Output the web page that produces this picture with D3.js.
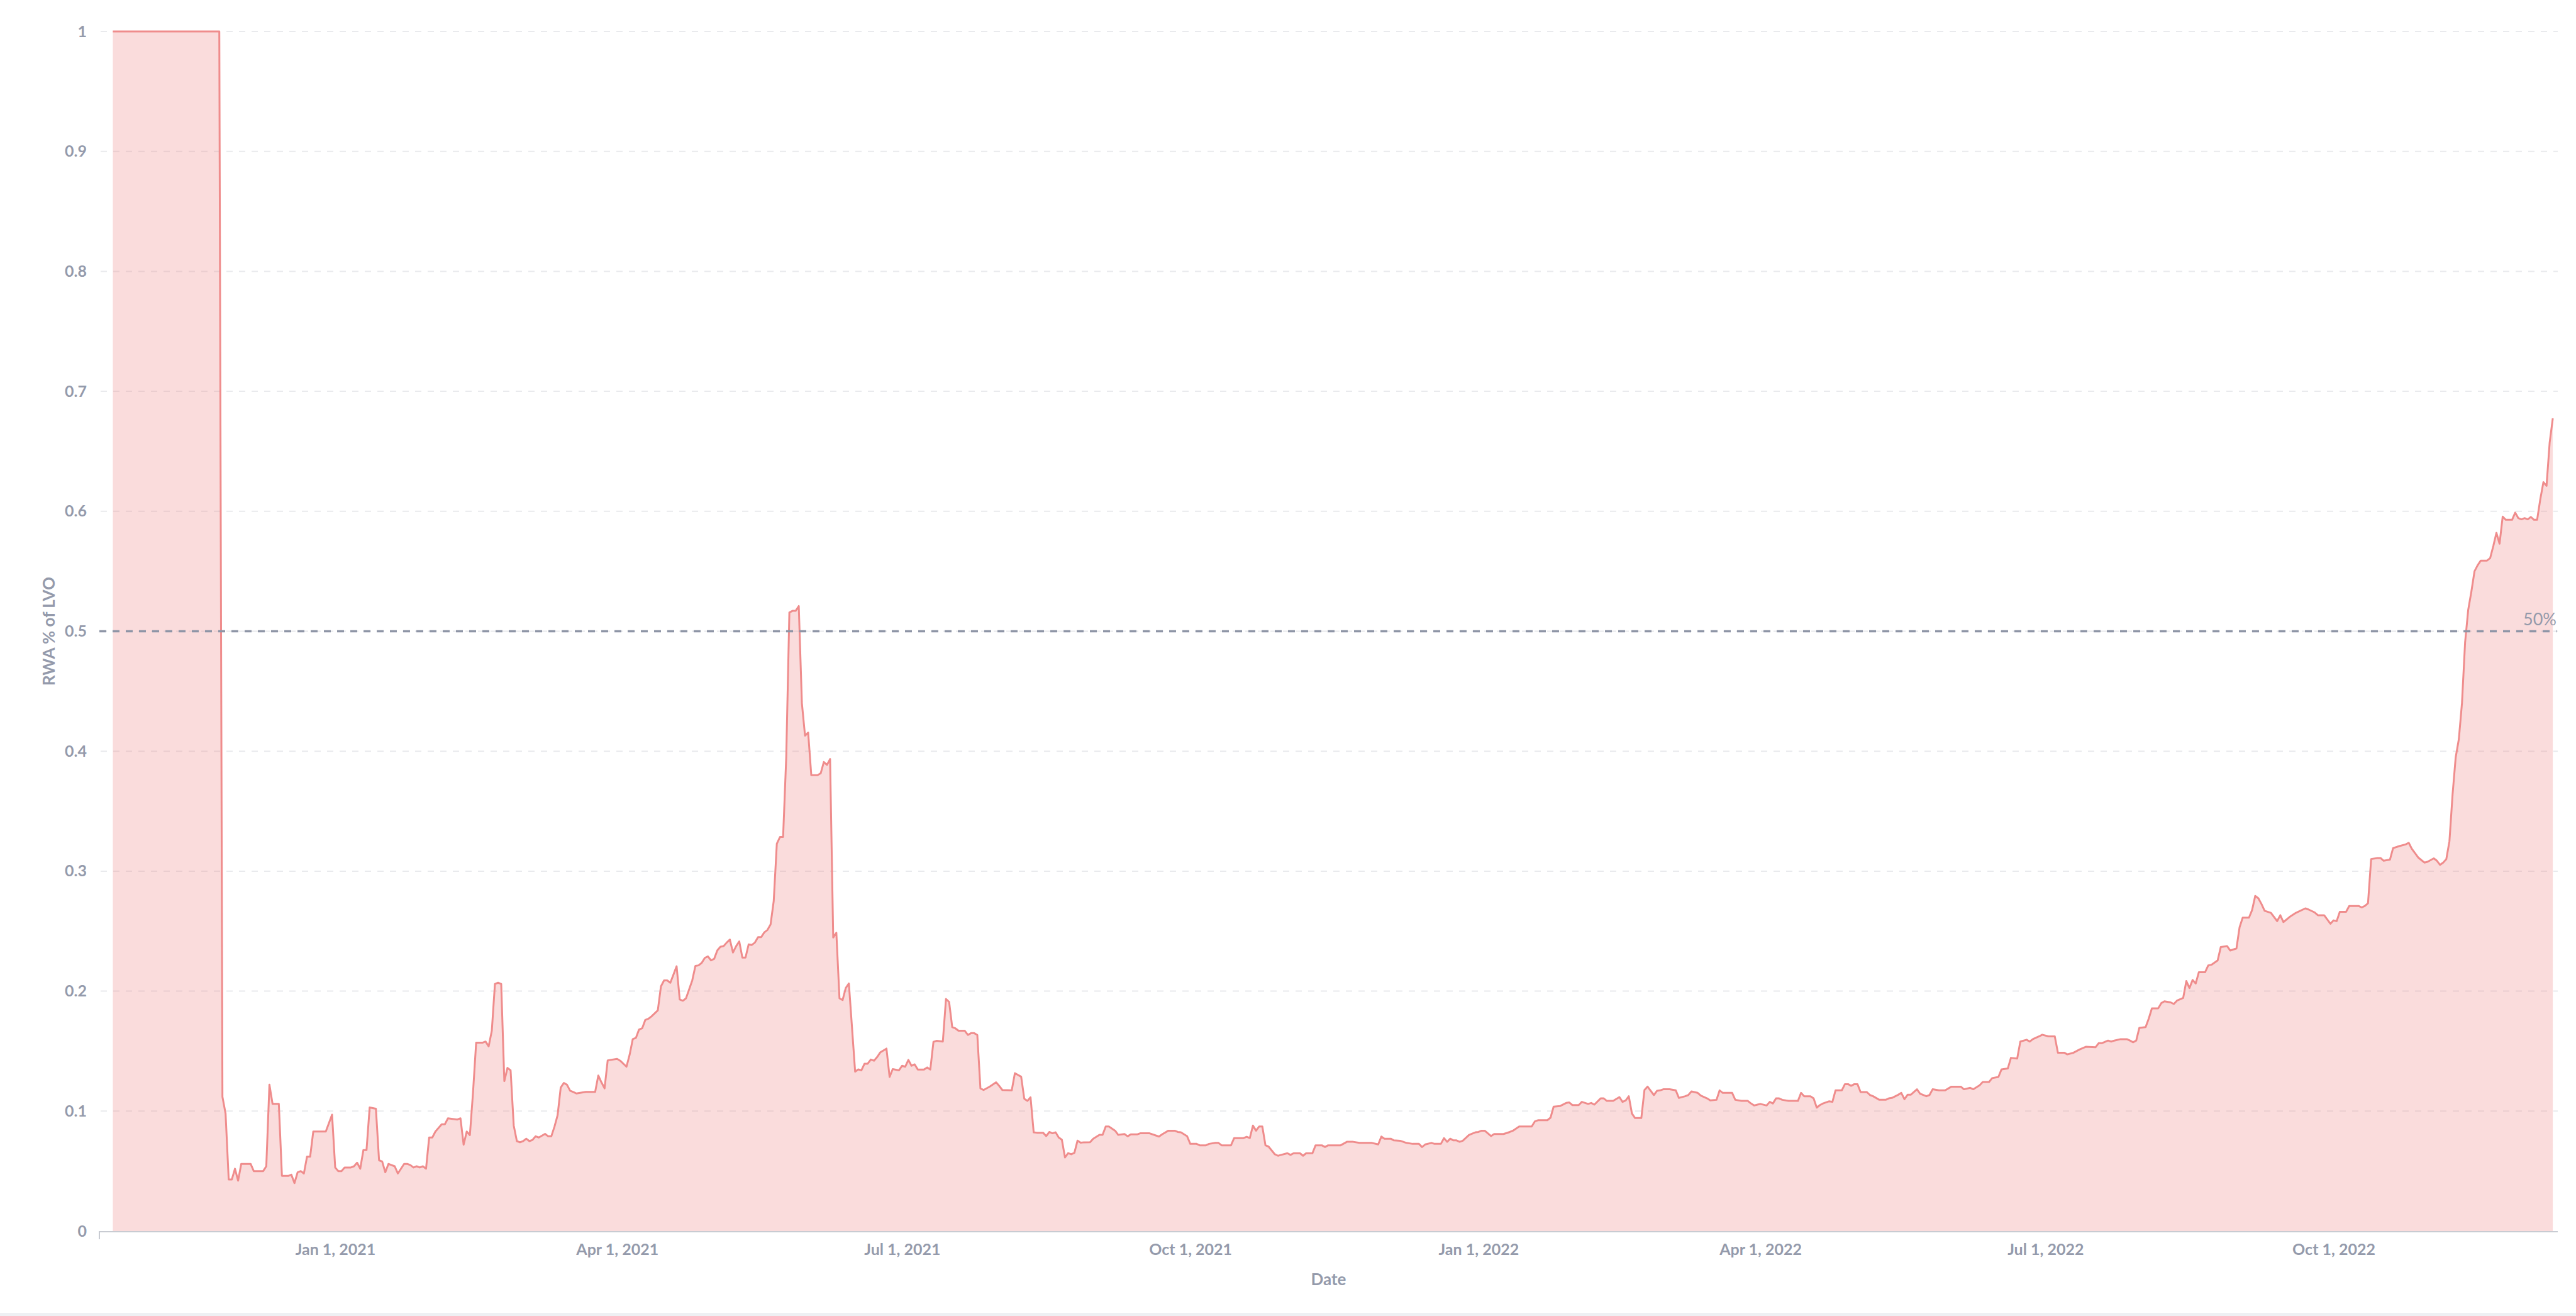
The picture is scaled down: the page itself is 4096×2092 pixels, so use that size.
<!DOCTYPE html>
<html><head><meta charset="utf-8">
<script src="https://cdn.jsdelivr.net/npm/d3@7"></script>
<style>html,body{margin:0;padding:0;background:#fff;} svg{display:block;}</style>
</head><body>
<svg id="chart" width="4096" height="2092"></svg>
<script>
// ---- data (RWA % of LVO by date) ----
const points2020 = [
["2020-10-22",1.0],["2020-11-25",1.0],["2020-11-26",0.112],["2020-11-27",0.098],["2020-11-28",0.043],["2020-11-29",0.043],["2020-11-30",0.052],
["2020-12-01",0.042],["2020-12-02",0.056],["2020-12-05",0.056],["2020-12-06",0.050],["2020-12-09",0.050],["2020-12-10",0.054],["2020-12-11",0.122],
["2020-12-12",0.106],["2020-12-14",0.106],["2020-12-15",0.046],["2020-12-17",0.046],["2020-12-18",0.047],["2020-12-19",0.040],["2020-12-20",0.049],
["2020-12-21",0.050],["2020-12-22",0.048],["2020-12-23",0.062],["2020-12-24",0.062],["2020-12-25",0.083],["2020-12-29",0.083],["2020-12-31",0.097]
];
const points2021 = [
["2021-01-01",0.053],["2021-01-02",0.050],["2021-01-03",0.050],["2021-01-04",0.053],["2021-01-06",0.053],["2021-01-07",0.054],["2021-01-08",0.057],
["2021-01-09",0.052],["2021-01-10",0.0675],["2021-01-11",0.0675],["2021-01-12",0.103],["2021-01-14",0.102],["2021-01-15",0.059],["2021-01-16",0.058],
["2021-01-17",0.049],["2021-01-18",0.056],["2021-01-19",0.055],["2021-01-20",0.054],["2021-01-21",0.048],["2021-01-23",0.056],["2021-01-24",0.056],
["2021-01-25",0.055],["2021-01-26",0.053],["2021-01-27",0.054],["2021-01-28",0.053],["2021-01-29",0.054],["2021-01-30",0.052],["2021-01-31",0.078],
["2021-02-01",0.078],["2021-02-02",0.083],["2021-02-03",0.086],["2021-02-04",0.089],["2021-02-05",0.089],["2021-02-06",0.094],["2021-02-09",0.093],
["2021-02-10",0.094],["2021-02-11",0.072],["2021-02-12",0.083],["2021-02-13",0.080],["2021-02-14",0.1155],["2021-02-15",0.157],["2021-02-17",0.157],
["2021-02-18",0.158],["2021-02-19",0.154],["2021-02-20",0.167],["2021-02-21",0.206],["2021-02-22",0.207],["2021-02-23",0.206],["2021-02-24",0.125],
["2021-02-25",0.136],["2021-02-26",0.134],["2021-02-27",0.088],["2021-02-28",0.075],["2021-03-01",0.074],["2021-03-02",0.075],["2021-03-03",0.077],
["2021-03-04",0.075],["2021-03-05",0.076],["2021-03-06",0.079],["2021-03-07",0.078],["2021-03-09",0.081],["2021-03-10",0.079],["2021-03-11",0.079],
["2021-03-12",0.087],["2021-03-13",0.0965],["2021-03-14",0.1196],["2021-03-15",0.1235],["2021-03-16",0.122],["2021-03-17",0.117],["2021-03-18",0.116],
["2021-03-19",0.1147],["2021-03-22",0.116],["2021-03-25",0.116],["2021-03-26",0.1297],["2021-03-27",0.124],["2021-03-28",0.119],["2021-03-29",0.1423],
["2021-04-01",0.1436],["2021-04-02",0.142],["2021-04-04",0.137],["2021-04-05",0.147],["2021-04-06",0.160],["2021-04-07",0.161],["2021-04-08",0.168],
["2021-04-09",0.169],["2021-04-10",0.176],["2021-04-11",0.177],["2021-04-12",0.179],["2021-04-14",0.184],["2021-04-15",0.204],["2021-04-16",0.209],
["2021-04-17",0.209],["2021-04-18",0.207],["2021-04-20",0.2207],["2021-04-21",0.193],["2021-04-22",0.192],["2021-04-23",0.194],["2021-04-24",0.2015],
["2021-04-25",0.209],["2021-04-26",0.221],["2021-04-27",0.2215],["2021-04-28",0.2235],["2021-04-29",0.2277],["2021-04-30",0.229],["2021-05-01",0.2256],
["2021-05-02",0.227],["2021-05-03",0.234],["2021-05-04",0.237],["2021-05-05",0.2375],["2021-05-06",0.2405],["2021-05-07",0.243],["2021-05-08",0.2322],
["2021-05-09",0.2375],["2021-05-10",0.2415],["2021-05-11",0.228],["2021-05-12",0.228],["2021-05-13",0.239],["2021-05-14",0.2385],["2021-05-15",0.2405],
["2021-05-16",0.245],["2021-05-17",0.245],["2021-05-18",0.249],["2021-05-19",0.251],["2021-05-20",0.2556],["2021-05-21",0.275],["2021-05-22",0.323],
["2021-05-23",0.3285],["2021-05-24",0.3285],["2021-05-25",0.395],["2021-05-26",0.5157],["2021-05-27",0.517],["2021-05-28",0.517],["2021-05-29",0.521],
["2021-05-30",0.440],["2021-05-31",0.413],["2021-06-01",0.4155],["2021-06-02",0.380],["2021-06-04",0.380],["2021-06-05",0.3816],["2021-06-06",0.391],
["2021-06-07",0.3886],["2021-06-08",0.3935],["2021-06-09",0.2447],["2021-06-10",0.2487],["2021-06-11",0.194],["2021-06-12",0.1926],["2021-06-13",0.2026],
["2021-06-14",0.2064],["2021-06-16",0.1329],["2021-06-17",0.1348],["2021-06-18",0.134],["2021-06-19",0.1395],["2021-06-20",0.1395],["2021-06-21",0.143],
["2021-06-22",0.142],["2021-06-23",0.145],["2021-06-24",0.1489],["2021-06-26",0.1521],["2021-06-27",0.1285],["2021-06-28",0.135],["2021-06-30",0.134],
["2021-07-01",0.1378],["2021-07-02",0.137],["2021-07-03",0.1427],["2021-07-04",0.1378],["2021-07-05",0.139],["2021-07-06",0.1347],["2021-07-08",0.1347],
["2021-07-09",0.1364],["2021-07-10",0.1347],["2021-07-11",0.1577],["2021-07-12",0.1586],["2021-07-14",0.158],["2021-07-15",0.1935],["2021-07-16",0.191],
["2021-07-17",0.170],["2021-07-18",0.169],["2021-07-19",0.167],["2021-07-21",0.167],["2021-07-22",0.1635],["2021-07-23",0.165],["2021-07-24",0.165],
["2021-07-25",0.1635],["2021-07-26",0.119],["2021-07-27",0.1176],["2021-07-29",0.1205],["2021-07-31",0.124],["2021-08-01",0.121],["2021-08-02",0.1176],
["2021-08-05",0.1173],["2021-08-06",0.1316],["2021-08-08",0.1287],["2021-08-09",0.1103],["2021-08-10",0.1086],["2021-08-11",0.1115],["2021-08-12",0.0823],
["2021-08-13",0.082],["2021-08-15",0.082],["2021-08-16",0.0792],["2021-08-17",0.0826],["2021-08-18",0.0815],["2021-08-19",0.0823],["2021-08-20",0.078],
["2021-08-21",0.0762],["2021-08-22",0.0614],["2021-08-23",0.065],["2021-08-24",0.064],["2021-08-25",0.0652],["2021-08-26",0.0754],["2021-08-27",0.0737],
["2021-08-28",0.074],["2021-08-30",0.0741],["2021-08-31",0.077],["2021-09-02",0.0802],["2021-09-03",0.0802],["2021-09-04",0.0872],["2021-09-05",0.0872],
["2021-09-07",0.0837],["2021-09-08",0.0802],["2021-09-10",0.0809],["2021-09-11",0.079],["2021-09-12",0.0806],["2021-09-14",0.0806],["2021-09-15",0.0815],
["2021-09-18",0.0815],["2021-09-21",0.0788],["2021-09-22",0.0806],["2021-09-24",0.0837],["2021-09-26",0.0837],["2021-09-27",0.0826],["2021-09-28",0.0823],
["2021-09-30",0.079],["2021-10-01",0.0727],["2021-10-03",0.0727],["2021-10-04",0.0715],["2021-10-06",0.0715],["2021-10-07",0.0727],["2021-10-09",0.0735],
["2021-10-10",0.0735],["2021-10-11",0.0715],["2021-10-14",0.0715],["2021-10-15",0.0775],["2021-10-18",0.0775],["2021-10-19",0.0786],["2021-10-20",0.0775],
["2021-10-21",0.0879],["2021-10-22",0.0837],["2021-10-23",0.0872],["2021-10-24",0.0872],["2021-10-25",0.0715],["2021-10-26",0.0704],["2021-10-28",0.064],
["2021-10-29",0.0628],["2021-10-30",0.0635],["2021-11-01",0.0649],["2021-11-02",0.0635],["2021-11-03",0.0649],["2021-11-05",0.0649],["2021-11-06",0.0628],
["2021-11-07",0.0649],["2021-11-09",0.0649],["2021-11-10",0.0715],["2021-11-12",0.0715],["2021-11-13",0.0701],["2021-11-14",0.0715],["2021-11-18",0.0715],
["2021-11-20",0.0744],["2021-11-22",0.0744],["2021-11-24",0.0735],["2021-11-28",0.0735],["2021-11-30",0.0722],["2021-12-01",0.0788],["2021-12-02",0.077],
["2021-12-04",0.077],["2021-12-05",0.0756],["2021-12-07",0.0753],["2021-12-09",0.0735],["2021-12-11",0.0727],["2021-12-13",0.0727],["2021-12-14",0.0701],
["2021-12-15",0.0722],["2021-12-17",0.0735],["2021-12-18",0.0727],["2021-12-20",0.0727],["2021-12-21",0.0775],["2021-12-22",0.0744],["2021-12-23",0.077],
["2021-12-24",0.0756],["2021-12-25",0.0756],["2021-12-26",0.0744],["2021-12-27",0.0753],["2021-12-29",0.0802],["2021-12-31",0.0823]
];
const points2022 = [
["2022-01-01",0.0826],["2022-01-02",0.0837],["2022-01-03",0.0837],["2022-01-05",0.0792],["2022-01-06",0.0809],["2022-01-09",0.0809],["2022-01-11",0.0826],
["2022-01-12",0.0837],["2022-01-14",0.0872],["2022-01-18",0.0872],["2022-01-19",0.0914],["2022-01-20",0.0924],["2022-01-23",0.0924],["2022-01-24",0.0945],
["2022-01-25",0.1037],["2022-01-27",0.1042],["2022-01-29",0.1068],["2022-01-30",0.1072],["2022-01-31",0.105],["2022-02-02",0.105],["2022-02-03",0.1077],
["2022-02-05",0.106],["2022-02-06",0.1068],["2022-02-07",0.1054],["2022-02-09",0.1106],["2022-02-10",0.1106],["2022-02-11",0.1085],["2022-02-13",0.1085],
["2022-02-15",0.1117],["2022-02-16",0.1077],["2022-02-17",0.1089],["2022-02-18",0.1124],["2022-02-19",0.098],["2022-02-20",0.0942],["2022-02-22",0.0942],
["2022-02-23",0.1176],["2022-02-24",0.1204],["2022-02-26",0.1134],["2022-02-27",0.1169],["2022-02-28",0.1173],["2022-03-01",0.1182],["2022-03-03",0.1182],
["2022-03-05",0.1173],["2022-03-06",0.111],["2022-03-08",0.1124],["2022-03-09",0.1134],["2022-03-10",0.1164],["2022-03-12",0.1152],["2022-03-13",0.1129],
["2022-03-15",0.1106],["2022-03-16",0.1089],["2022-03-18",0.1094],["2022-03-19",0.1173],["2022-03-20",0.1152],["2022-03-23",0.1152],["2022-03-24",0.1094],
["2022-03-26",0.1085],["2022-03-28",0.1085],["2022-03-29",0.1064],["2022-03-30",0.1047],["2022-04-01",0.106],["2022-04-03",0.1047],["2022-04-04",0.1077],
["2022-04-05",0.1064],["2022-04-06",0.1106],["2022-04-07",0.1106],["2022-04-08",0.1094],["2022-04-10",0.1085],["2022-04-13",0.1085],["2022-04-14",0.1152],
["2022-04-15",0.1124],["2022-04-17",0.1124],["2022-04-18",0.1106],["2022-04-19",0.1029],["2022-04-20",0.105],["2022-04-21",0.1064],["2022-04-23",0.1082],
["2022-04-24",0.1077],["2022-04-25",0.1173],["2022-04-27",0.1173],["2022-04-28",0.1225],["2022-04-29",0.1225],["2022-04-30",0.1211],["2022-05-01",0.1225],
["2022-05-02",0.1225],["2022-05-03",0.1159],["2022-05-05",0.1159],["2022-05-06",0.1134],["2022-05-07",0.1124],["2022-05-09",0.1094],["2022-05-11",0.1094],
["2022-05-12",0.1106],["2022-05-13",0.111],["2022-05-15",0.1136],["2022-05-16",0.1152],["2022-05-17",0.1099],["2022-05-18",0.1136],["2022-05-19",0.1136],
["2022-05-21",0.1182],["2022-05-22",0.1145],["2022-05-24",0.1124],["2022-05-25",0.1134],["2022-05-26",0.1182],["2022-05-28",0.1173],["2022-05-30",0.1173],
["2022-06-01",0.1204],["2022-06-04",0.1204],["2022-06-05",0.1182],["2022-06-07",0.1194],["2022-06-08",0.1182],["2022-06-10",0.1215],["2022-06-11",0.1243],
["2022-06-13",0.1243],["2022-06-14",0.1275],["2022-06-16",0.1285],["2022-06-17",0.1348],["2022-06-19",0.1355],["2022-06-20",0.1444],["2022-06-22",0.1438],
["2022-06-23",0.158],["2022-06-25",0.1595],["2022-06-26",0.158],["2022-06-27",0.160],["2022-06-29",0.1623],["2022-06-30",0.1637],["2022-07-02",0.1623],
["2022-07-04",0.1623],["2022-07-05",0.1487],["2022-07-07",0.1487],["2022-07-08",0.1473],["2022-07-10",0.1487],["2022-07-12",0.1515],["2022-07-14",0.1537],
["2022-07-17",0.1532],["2022-07-18",0.1566],["2022-07-19",0.1566],["2022-07-21",0.1588],["2022-07-22",0.158],["2022-07-23",0.1588],["2022-07-25",0.160],
["2022-07-27",0.160],["2022-07-28",0.1588],["2022-07-29",0.1574],["2022-07-30",0.1588],["2022-07-31",0.1694],["2022-08-02",0.170],["2022-08-03",0.1771],
["2022-08-04",0.1856],["2022-08-06",0.1856],["2022-08-07",0.190],["2022-08-08",0.1915],["2022-08-10",0.1906],["2022-08-11",0.1893],["2022-08-12",0.1921],
["2022-08-14",0.1944],["2022-08-15",0.2084],["2022-08-16",0.2026],["2022-08-17",0.2093],["2022-08-18",0.2064],["2022-08-19",0.2158],["2022-08-21",0.2158],
["2022-08-22",0.2215],["2022-08-23",0.222],["2022-08-25",0.2256],["2022-08-26",0.2368],["2022-08-28",0.2376],["2022-08-29",0.2339],["2022-08-31",0.2356],
["2022-09-01",0.2533],["2022-09-02",0.2613],["2022-09-04",0.2613],["2022-09-05",0.2676],["2022-09-06",0.2794],["2022-09-07",0.2774],["2022-09-08",0.2726],
["2022-09-09",0.267],["2022-09-11",0.2653],["2022-09-13",0.2584],["2022-09-14",0.2633],["2022-09-15",0.2576],["2022-09-17",0.2619],["2022-09-19",0.2653],
["2022-09-22",0.269],["2022-09-23",0.2681],["2022-09-25",0.2656],["2022-09-26",0.2633],["2022-09-28",0.2633],["2022-09-30",0.2562],["2022-10-01",0.259],
["2022-10-02",0.2584],["2022-10-03",0.2661],["2022-10-05",0.2661],["2022-10-06",0.271],["2022-10-09",0.271],["2022-10-10",0.2698],["2022-10-11",0.271],
["2022-10-12",0.2733],["2022-10-13",0.3101],["2022-10-15",0.311],["2022-10-16",0.311],["2022-10-17",0.3087],["2022-10-19",0.3096],["2022-10-20",0.3192],
["2022-10-22",0.3209],["2022-10-24",0.3223],["2022-10-25",0.3237],["2022-10-26",0.3186],["2022-10-28",0.3115],["2022-10-30",0.3072],["2022-10-31",0.3078],
["2022-11-02",0.3107],["2022-11-03",0.3087],["2022-11-04",0.3053],["2022-11-05",0.3072],["2022-11-06",0.3100],["2022-11-07",0.325],["2022-11-08",0.364],
["2022-11-09",0.395],["2022-11-10",0.410],["2022-11-11",0.44],["2022-11-12",0.4908],["2022-11-13",0.518],["2022-11-14",0.533],["2022-11-15",0.550],
["2022-11-16",0.555],["2022-11-17",0.5589],["2022-11-19",0.5589],["2022-11-20",0.561],["2022-11-21",0.571],["2022-11-22",0.582],["2022-11-23",0.573],
["2022-11-24",0.5956],["2022-11-25",0.5929],["2022-11-27",0.5929],["2022-11-28",0.5989],["2022-11-29",0.5943],["2022-11-30",0.5933],["2022-12-01",0.5943],
["2022-12-02",0.5933],["2022-12-03",0.5953],["2022-12-04",0.5929],["2022-12-05",0.5929],["2022-12-06",0.610],["2022-12-07",0.6243],["2022-12-08",0.6212],
["2022-12-09",0.6574],["2022-12-10",0.6775]
];
const yTickValues = [0, 0.1, 0.2, 0.3, 0.4, 0.5, 0.6, 0.7, 0.8, 0.9, 1];
const xTickLabels = ["2021-01-01","2021-04-01","2021-07-01","2021-10-01","2022-01-01","2022-04-01","2022-07-01","2022-10-01"];
const goalValue = 0.5;
const goalLabel = "50%";
const yTitle = "RWA % of LVO";
const xTitle = "Date";

// ---- layout ----
const parse = d3.utcParse("%Y-%m-%d");
const data = [...points2020, ...points2021, ...points2022].map(([d, v]) => ({date: parse(d), value: v}));
const plot = {left: 158, right: 4067, top: 50, bottom: 1957};
const lineColor = "#EF8C8C";
const textColor = "#949AAB";
const font = "Lato, 'Open Sans', sans-serif";

const x = d3.scaleUtc()
  .domain([Date.UTC(2020, 9, 17, 17), Date.UTC(2022, 11, 11, 14)])
  .range([plot.left, plot.right]);
const y = d3.scaleLinear().domain([0, 1]).range([plot.bottom, plot.top]);

const svg = d3.select("#chart");
svg.append("rect").attr("width", 4096).attr("height", 2092).attr("fill", "#fff");

// gridlines
svg.append("g").selectAll("line").data(yTickValues.filter(v => v > 0)).join("line")
  .attr("x1", plot.left + 2).attr("x2", plot.right)
  .attr("y1", d => y(d)).attr("y2", d => y(d))
  .attr("stroke", "#E9EAED").attr("stroke-width", 2).attr("stroke-dasharray", "10,10");

// area + line
svg.append("path").datum(data)
  .attr("d", d3.area().x(d => x(d.date)).y0(y(0)).y1(d => y(d.value)))
  .attr("fill", lineColor).attr("fill-opacity", 0.3);
svg.append("path").datum(data)
  .attr("d", d3.line().x(d => x(d.date)).y(d => y(d.value)))
  .attr("fill", "none").attr("stroke", lineColor).attr("stroke-width", 3)
  .attr("stroke-linejoin", "round");

// y axis
const yAxis = svg.append("g").attr("transform", `translate(${plot.left},0)`)
  .call(d3.axisLeft(y).tickValues(yTickValues).tickSize(0).tickPadding(20).tickFormat(d3.format("~g")));
yAxis.select(".domain").remove();
yAxis.selectAll("text").attr("font-family", font).attr("font-weight", 700)
  .attr("font-size", 25).attr("fill", textColor);

// x axis
const xAxis = svg.append("g").attr("transform", `translate(0,${plot.bottom + 1})`)
  .call(d3.axisBottom(x).tickValues(xTickLabels.map(parse)).tickSize(0).tickPadding(19)
    .tickFormat(d3.utcFormat("%b %-d, %Y")));
xAxis.select(".domain").remove();
xAxis.selectAll("text").attr("font-family", font).attr("font-weight", 700)
  .attr("font-size", 25).attr("fill", textColor);
svg.append("line").attr("x1", plot.left).attr("x2", plot.right)
  .attr("y1", plot.bottom + 1).attr("y2", plot.bottom + 1)
  .attr("stroke", "#C8CBD2").attr("stroke-width", 2);
svg.append("line").attr("x1", plot.left).attr("x2", plot.left)
  .attr("y1", plot.bottom).attr("y2", plot.bottom + 13)
  .attr("stroke", "#C8CBD2").attr("stroke-width", 2);

// goal line
svg.append("line").attr("x1", plot.left).attr("x2", plot.right - 2)
  .attr("y1", y(goalValue)).attr("y2", y(goalValue))
  .attr("stroke", "#8E95A6").attr("stroke-width", 3.5).attr("stroke-dasharray", "11,10");
svg.append("text").attr("x", plot.right - 2).attr("y", y(goalValue) - 10)
  .attr("text-anchor", "end").attr("font-family", font).attr("font-size", 27)
  .attr("fill", textColor).text(goalLabel);

// titles
svg.append("text").attr("transform", `translate(77,${(plot.top + plot.bottom) / 2}) rotate(-90)`)
  .attr("text-anchor", "middle").attr("dominant-baseline", "central")
  .attr("font-family", font).attr("font-weight", 700).attr("font-size", 26)
  .attr("fill", textColor).text(yTitle);
svg.append("text").attr("x", (plot.left + plot.right) / 2).attr("y", 2043)
  .attr("text-anchor", "middle").attr("font-family", font).attr("font-weight", 700)
  .attr("font-size", 26).attr("fill", textColor).text(xTitle);

// bottom band
svg.append("rect").attr("x", 0).attr("y", 2087).attr("width", 4096).attr("height", 5).attr("fill", "#EEF0F3");
</script>
</body></html>
